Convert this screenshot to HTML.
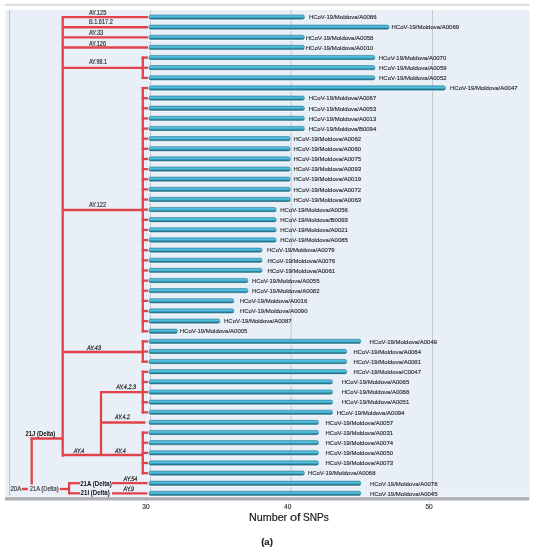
<!DOCTYPE html>
<html><head><meta charset="utf-8"><style>
html,body{margin:0;padding:0;background:#fff;width:534px;height:550px;overflow:hidden;position:relative}
svg text{font-family:"Liberation Sans",sans-serif}
</style></head><body>
<svg width="534" height="550" viewBox="0 0 534 550" style="position:absolute;left:0;top:0;will-change:transform">
<defs><linearGradient id="ax" x1="0" y1="0" x2="0" y2="1"><stop offset="0" stop-color="#b9bcbf"/><stop offset="0.45" stop-color="#a6a9ad"/><stop offset="1" stop-color="#b9bcbf"/></linearGradient><linearGradient id="bar" x1="0" y1="0" x2="0" y2="1"><stop offset="0" stop-color="#3f9ab5"/><stop offset="0.18" stop-color="#4cbcdc"/><stop offset="0.45" stop-color="#50c0e0"/><stop offset="0.62" stop-color="#3c9db8"/><stop offset="0.8" stop-color="#2d7a92"/><stop offset="1" stop-color="#276a7f"/></linearGradient></defs>
<rect x="5" y="3.8" width="524.5" height="2.1" fill="#dcdcdc"/>
<rect x="5.5" y="10" width="524" height="487.5" fill="#e8eff7"/>
<rect x="9" y="10.5" width="1.1" height="487" fill="#bcc2c9"/>
<rect x="150.0" y="10" width="0.8" height="487.5" fill="#b9bdc2"/>
<rect x="290.7" y="10" width="0.8" height="487.5" fill="#b9bdc2"/>
<rect x="432.1" y="10" width="0.8" height="487.5" fill="#b9bdc2"/>
<rect x="5.5" y="495.6" width="524" height="1.5" fill="#f3f6fa" opacity="0.6"/><rect x="5" y="497.1" width="524.3" height="3.5" fill="url(#ax)"/>
<rect x="146.1" y="500" width="0.8" height="3" fill="#cfd2d5"/>
<text x="146.0" y="509" font-size="6.6" text-anchor="middle" fill="#333" stroke="#333" stroke-width="0.15">30</text>
<rect x="287.8" y="500" width="0.8" height="3" fill="#cfd2d5"/>
<text x="287.7" y="509" font-size="6.6" text-anchor="middle" fill="#333" stroke="#333" stroke-width="0.15">40</text>
<rect x="429.20000000000005" y="500" width="0.8" height="3" fill="#cfd2d5"/>
<text x="429.1" y="509" font-size="6.6" text-anchor="middle" fill="#333" stroke="#333" stroke-width="0.15">50</text>
<text x="249.0" y="521.2" font-size="11.3" fill="#222" stroke="#222" stroke-width="0.22" textLength="38.2" lengthAdjust="spacingAndGlyphs">Number</text>
<text x="290.0" y="521.2" font-size="11.3" fill="#222" stroke="#222" stroke-width="0.22" textLength="10.6" lengthAdjust="spacingAndGlyphs">of</text>
<text x="303.0" y="521.2" font-size="11.3" fill="#222" stroke="#222" stroke-width="0.22" textLength="25.8" lengthAdjust="spacingAndGlyphs">SNPs</text>
<text x="267" y="545" font-size="9.6" font-weight="bold" text-anchor="middle" fill="#222" stroke="#222" stroke-width="0.15">(a)</text>
<rect x="148.5" y="19.45" width="156.36" height="1.3" fill="#f6f9fc" opacity="0.8"/>
<rect x="149.0" y="14.90" width="155.36" height="4.3" rx="1.7" fill="url(#bar)" stroke="#2e7a91" stroke-width="0.5"/>
<text x="308.90" y="19.30" font-size="6.1" fill="#333" stroke="#333" stroke-width="0.16" textLength="67.6" lengthAdjust="spacingAndGlyphs">HCoV-19/Moldova/A0086</text>
<rect x="148.5" y="29.59" width="240.99" height="1.3" fill="#f6f9fc" opacity="0.8"/>
<rect x="149.0" y="25.04" width="239.99" height="4.3" rx="1.7" fill="url(#bar)" stroke="#2e7a91" stroke-width="0.5"/>
<text x="391.50" y="29.43" font-size="6.1" fill="#333" stroke="#333" stroke-width="0.16" textLength="67.6" lengthAdjust="spacingAndGlyphs">HCoV-19/Moldova/A0069</text>
<rect x="148.5" y="39.72" width="156.36" height="1.3" fill="#f6f9fc" opacity="0.8"/>
<rect x="149.0" y="35.17" width="155.36" height="4.3" rx="1.7" fill="url(#bar)" stroke="#2e7a91" stroke-width="0.5"/>
<text x="305.80" y="39.57" font-size="6.1" fill="#333" stroke="#333" stroke-width="0.16" textLength="67.6" lengthAdjust="spacingAndGlyphs">HCoV-19/Moldova/A0058</text>
<rect x="148.5" y="49.85" width="156.36" height="1.3" fill="#f6f9fc" opacity="0.8"/>
<rect x="149.0" y="45.30" width="155.36" height="4.3" rx="1.7" fill="url(#bar)" stroke="#2e7a91" stroke-width="0.5"/>
<text x="305.80" y="49.71" font-size="6.1" fill="#333" stroke="#333" stroke-width="0.16" textLength="67.6" lengthAdjust="spacingAndGlyphs">HCoV-19/Moldova/A0010</text>
<rect x="148.5" y="59.99" width="226.88" height="1.3" fill="#f6f9fc" opacity="0.8"/>
<rect x="149.0" y="55.44" width="225.88" height="4.3" rx="1.7" fill="url(#bar)" stroke="#2e7a91" stroke-width="0.5"/>
<text x="378.70" y="59.84" font-size="6.1" fill="#333" stroke="#333" stroke-width="0.16" textLength="67.6" lengthAdjust="spacingAndGlyphs">HCoV-19/Moldova/A0070</text>
<rect x="148.5" y="70.12" width="226.88" height="1.3" fill="#f6f9fc" opacity="0.8"/>
<rect x="149.0" y="65.57" width="225.88" height="4.3" rx="1.7" fill="url(#bar)" stroke="#2e7a91" stroke-width="0.5"/>
<text x="379.00" y="69.98" font-size="6.1" fill="#333" stroke="#333" stroke-width="0.16" textLength="67.6" lengthAdjust="spacingAndGlyphs">HCoV-19/Moldova/A0059</text>
<rect x="148.5" y="80.26" width="226.88" height="1.3" fill="#f6f9fc" opacity="0.8"/>
<rect x="149.0" y="75.71" width="225.88" height="4.3" rx="1.7" fill="url(#bar)" stroke="#2e7a91" stroke-width="0.5"/>
<text x="379.00" y="80.11" font-size="6.1" fill="#333" stroke="#333" stroke-width="0.16" textLength="67.6" lengthAdjust="spacingAndGlyphs">HCoV-19/Moldova/A0052</text>
<rect x="148.5" y="90.39" width="297.41" height="1.3" fill="#f6f9fc" opacity="0.8"/>
<rect x="149.0" y="85.84" width="296.41" height="4.3" rx="1.7" fill="url(#bar)" stroke="#2e7a91" stroke-width="0.5"/>
<text x="450.00" y="90.24" font-size="6.1" fill="#333" stroke="#333" stroke-width="0.16" textLength="67.6" lengthAdjust="spacingAndGlyphs">HCoV-19/Moldova/A0047</text>
<rect x="148.5" y="100.53" width="156.36" height="1.3" fill="#f6f9fc" opacity="0.8"/>
<rect x="149.0" y="95.98" width="155.36" height="4.3" rx="1.7" fill="url(#bar)" stroke="#2e7a91" stroke-width="0.5"/>
<text x="308.70" y="100.38" font-size="6.1" fill="#333" stroke="#333" stroke-width="0.16" textLength="67.6" lengthAdjust="spacingAndGlyphs">HCoV-19/Moldova/A0067</text>
<rect x="148.5" y="110.67" width="156.36" height="1.3" fill="#f6f9fc" opacity="0.8"/>
<rect x="149.0" y="106.11" width="155.36" height="4.3" rx="1.7" fill="url(#bar)" stroke="#2e7a91" stroke-width="0.5"/>
<text x="308.70" y="110.52" font-size="6.1" fill="#333" stroke="#333" stroke-width="0.16" textLength="67.6" lengthAdjust="spacingAndGlyphs">HCoV-19/Moldova/A0053</text>
<rect x="148.5" y="120.80" width="156.36" height="1.3" fill="#f6f9fc" opacity="0.8"/>
<rect x="149.0" y="116.25" width="155.36" height="4.3" rx="1.7" fill="url(#bar)" stroke="#2e7a91" stroke-width="0.5"/>
<text x="308.70" y="120.65" font-size="6.1" fill="#333" stroke="#333" stroke-width="0.16" textLength="67.6" lengthAdjust="spacingAndGlyphs">HCoV-19/Moldova/A0013</text>
<rect x="148.5" y="130.94" width="156.36" height="1.3" fill="#f6f9fc" opacity="0.8"/>
<rect x="149.0" y="126.38" width="155.36" height="4.3" rx="1.7" fill="url(#bar)" stroke="#2e7a91" stroke-width="0.5"/>
<text x="308.70" y="130.78" font-size="6.1" fill="#333" stroke="#333" stroke-width="0.16" textLength="67.6" lengthAdjust="spacingAndGlyphs">HCoV-19/Moldova/B0094</text>
<rect x="148.5" y="141.07" width="142.25" height="1.3" fill="#f6f9fc" opacity="0.8"/>
<rect x="149.0" y="136.52" width="141.25" height="4.3" rx="1.7" fill="url(#bar)" stroke="#2e7a91" stroke-width="0.5"/>
<text x="293.50" y="140.92" font-size="6.1" fill="#333" stroke="#333" stroke-width="0.16" textLength="67.6" lengthAdjust="spacingAndGlyphs">HCoV-19/Moldova/A0062</text>
<rect x="148.5" y="151.21" width="142.25" height="1.3" fill="#f6f9fc" opacity="0.8"/>
<rect x="149.0" y="146.66" width="141.25" height="4.3" rx="1.7" fill="url(#bar)" stroke="#2e7a91" stroke-width="0.5"/>
<text x="293.50" y="151.05" font-size="6.1" fill="#333" stroke="#333" stroke-width="0.16" textLength="67.6" lengthAdjust="spacingAndGlyphs">HCoV-19/Moldova/A0060</text>
<rect x="148.5" y="161.34" width="142.25" height="1.3" fill="#f6f9fc" opacity="0.8"/>
<rect x="149.0" y="156.79" width="141.25" height="4.3" rx="1.7" fill="url(#bar)" stroke="#2e7a91" stroke-width="0.5"/>
<text x="293.50" y="161.19" font-size="6.1" fill="#333" stroke="#333" stroke-width="0.16" textLength="67.6" lengthAdjust="spacingAndGlyphs">HCoV-19/Moldova/A0075</text>
<rect x="148.5" y="171.48" width="142.25" height="1.3" fill="#f6f9fc" opacity="0.8"/>
<rect x="149.0" y="166.93" width="141.25" height="4.3" rx="1.7" fill="url(#bar)" stroke="#2e7a91" stroke-width="0.5"/>
<text x="293.50" y="171.32" font-size="6.1" fill="#333" stroke="#333" stroke-width="0.16" textLength="67.6" lengthAdjust="spacingAndGlyphs">HCoV-19/Moldova/A0093</text>
<rect x="148.5" y="181.61" width="142.25" height="1.3" fill="#f6f9fc" opacity="0.8"/>
<rect x="149.0" y="177.06" width="141.25" height="4.3" rx="1.7" fill="url(#bar)" stroke="#2e7a91" stroke-width="0.5"/>
<text x="293.50" y="181.46" font-size="6.1" fill="#333" stroke="#333" stroke-width="0.16" textLength="67.6" lengthAdjust="spacingAndGlyphs">HCoV-19/Moldova/A0019</text>
<rect x="148.5" y="191.75" width="142.25" height="1.3" fill="#f6f9fc" opacity="0.8"/>
<rect x="149.0" y="187.19" width="141.25" height="4.3" rx="1.7" fill="url(#bar)" stroke="#2e7a91" stroke-width="0.5"/>
<text x="293.50" y="191.59" font-size="6.1" fill="#333" stroke="#333" stroke-width="0.16" textLength="67.6" lengthAdjust="spacingAndGlyphs">HCoV-19/Moldova/A0072</text>
<rect x="148.5" y="201.88" width="142.25" height="1.3" fill="#f6f9fc" opacity="0.8"/>
<rect x="149.0" y="197.33" width="141.25" height="4.3" rx="1.7" fill="url(#bar)" stroke="#2e7a91" stroke-width="0.5"/>
<text x="293.50" y="201.73" font-size="6.1" fill="#333" stroke="#333" stroke-width="0.16" textLength="67.6" lengthAdjust="spacingAndGlyphs">HCoV-19/Moldova/A0063</text>
<rect x="148.5" y="212.02" width="128.15" height="1.3" fill="#f6f9fc" opacity="0.8"/>
<rect x="149.0" y="207.47" width="127.15" height="4.3" rx="1.7" fill="url(#bar)" stroke="#2e7a91" stroke-width="0.5"/>
<text x="280.30" y="211.86" font-size="6.1" fill="#333" stroke="#333" stroke-width="0.16" textLength="67.6" lengthAdjust="spacingAndGlyphs">HCoV-19/Moldova/A0056</text>
<rect x="148.5" y="222.15" width="128.15" height="1.3" fill="#f6f9fc" opacity="0.8"/>
<rect x="149.0" y="217.60" width="127.15" height="4.3" rx="1.7" fill="url(#bar)" stroke="#2e7a91" stroke-width="0.5"/>
<text x="280.30" y="222.00" font-size="6.1" fill="#333" stroke="#333" stroke-width="0.16" textLength="67.6" lengthAdjust="spacingAndGlyphs">HCoV-19/Moldova/B0093</text>
<rect x="148.5" y="232.29" width="128.15" height="1.3" fill="#f6f9fc" opacity="0.8"/>
<rect x="149.0" y="227.74" width="127.15" height="4.3" rx="1.7" fill="url(#bar)" stroke="#2e7a91" stroke-width="0.5"/>
<text x="280.30" y="232.13" font-size="6.1" fill="#333" stroke="#333" stroke-width="0.16" textLength="67.6" lengthAdjust="spacingAndGlyphs">HCoV-19/Moldova/A0021</text>
<rect x="148.5" y="242.42" width="128.15" height="1.3" fill="#f6f9fc" opacity="0.8"/>
<rect x="149.0" y="237.87" width="127.15" height="4.3" rx="1.7" fill="url(#bar)" stroke="#2e7a91" stroke-width="0.5"/>
<text x="280.30" y="242.27" font-size="6.1" fill="#333" stroke="#333" stroke-width="0.16" textLength="67.6" lengthAdjust="spacingAndGlyphs">HCoV-19/Moldova/A0085</text>
<rect x="148.5" y="252.56" width="114.04" height="1.3" fill="#f6f9fc" opacity="0.8"/>
<rect x="149.0" y="248.00" width="113.04" height="4.3" rx="1.7" fill="url(#bar)" stroke="#2e7a91" stroke-width="0.5"/>
<text x="267.00" y="252.40" font-size="6.1" fill="#333" stroke="#333" stroke-width="0.16" textLength="67.6" lengthAdjust="spacingAndGlyphs">HCoV-19/Moldova/A0079</text>
<rect x="148.5" y="262.69" width="114.04" height="1.3" fill="#f6f9fc" opacity="0.8"/>
<rect x="149.0" y="258.14" width="113.04" height="4.3" rx="1.7" fill="url(#bar)" stroke="#2e7a91" stroke-width="0.5"/>
<text x="267.50" y="262.54" font-size="6.1" fill="#333" stroke="#333" stroke-width="0.16" textLength="67.6" lengthAdjust="spacingAndGlyphs">HCoV-19/Moldova/A0076</text>
<rect x="148.5" y="272.82" width="114.04" height="1.3" fill="#f6f9fc" opacity="0.8"/>
<rect x="149.0" y="268.28" width="113.04" height="4.3" rx="1.7" fill="url(#bar)" stroke="#2e7a91" stroke-width="0.5"/>
<text x="267.50" y="272.68" font-size="6.1" fill="#333" stroke="#333" stroke-width="0.16" textLength="67.6" lengthAdjust="spacingAndGlyphs">HCoV-19/Moldova/A0061</text>
<rect x="148.5" y="282.96" width="99.93" height="1.3" fill="#f6f9fc" opacity="0.8"/>
<rect x="149.0" y="278.41" width="98.93" height="4.3" rx="1.7" fill="url(#bar)" stroke="#2e7a91" stroke-width="0.5"/>
<text x="251.90" y="282.81" font-size="6.1" fill="#333" stroke="#333" stroke-width="0.16" textLength="67.6" lengthAdjust="spacingAndGlyphs">HCoV-19/Moldova/A0055</text>
<rect x="148.5" y="293.09" width="99.93" height="1.3" fill="#f6f9fc" opacity="0.8"/>
<rect x="149.0" y="288.55" width="98.93" height="4.3" rx="1.7" fill="url(#bar)" stroke="#2e7a91" stroke-width="0.5"/>
<text x="251.90" y="292.94" font-size="6.1" fill="#333" stroke="#333" stroke-width="0.16" textLength="67.6" lengthAdjust="spacingAndGlyphs">HCoV-19/Moldova/A0082</text>
<rect x="148.5" y="303.23" width="85.83" height="1.3" fill="#f6f9fc" opacity="0.8"/>
<rect x="149.0" y="298.68" width="84.83" height="4.3" rx="1.7" fill="url(#bar)" stroke="#2e7a91" stroke-width="0.5"/>
<text x="239.70" y="303.08" font-size="6.1" fill="#333" stroke="#333" stroke-width="0.16" textLength="67.6" lengthAdjust="spacingAndGlyphs">HCoV-19/Moldova/A0016</text>
<rect x="148.5" y="313.37" width="85.83" height="1.3" fill="#f6f9fc" opacity="0.8"/>
<rect x="149.0" y="308.82" width="84.83" height="4.3" rx="1.7" fill="url(#bar)" stroke="#2e7a91" stroke-width="0.5"/>
<text x="239.90" y="313.22" font-size="6.1" fill="#333" stroke="#333" stroke-width="0.16" textLength="67.6" lengthAdjust="spacingAndGlyphs">HCoV-19/Moldova/A0090</text>
<rect x="148.5" y="323.50" width="71.73" height="1.3" fill="#f6f9fc" opacity="0.8"/>
<rect x="149.0" y="318.95" width="70.73" height="4.3" rx="1.7" fill="url(#bar)" stroke="#2e7a91" stroke-width="0.5"/>
<text x="224.00" y="323.35" font-size="6.1" fill="#333" stroke="#333" stroke-width="0.16" textLength="67.6" lengthAdjust="spacingAndGlyphs">HCoV-19/Moldova/A0087</text>
<rect x="148.5" y="333.63" width="29.41" height="1.3" fill="#f6f9fc" opacity="0.8"/>
<rect x="149.0" y="329.09" width="28.41" height="4.3" rx="1.7" fill="url(#bar)" stroke="#2e7a91" stroke-width="0.5"/>
<text x="179.80" y="333.49" font-size="6.1" fill="#333" stroke="#333" stroke-width="0.16" textLength="67.6" lengthAdjust="spacingAndGlyphs">HCoV-19/Moldova/A0005</text>
<rect x="148.5" y="343.77" width="212.78" height="1.3" fill="#f6f9fc" opacity="0.8"/>
<rect x="149.0" y="339.22" width="211.78" height="4.3" rx="1.7" fill="url(#bar)" stroke="#2e7a91" stroke-width="0.5"/>
<text x="369.50" y="343.62" font-size="6.1" fill="#333" stroke="#333" stroke-width="0.16" textLength="67.6" lengthAdjust="spacingAndGlyphs">HCoV-19/Moldova/A0049</text>
<rect x="148.5" y="353.90" width="198.67" height="1.3" fill="#f6f9fc" opacity="0.8"/>
<rect x="149.0" y="349.36" width="197.67" height="4.3" rx="1.7" fill="url(#bar)" stroke="#2e7a91" stroke-width="0.5"/>
<text x="353.40" y="353.75" font-size="6.1" fill="#333" stroke="#333" stroke-width="0.16" textLength="67.6" lengthAdjust="spacingAndGlyphs">HCoV-19/Moldova/A0064</text>
<rect x="148.5" y="364.04" width="198.67" height="1.3" fill="#f6f9fc" opacity="0.8"/>
<rect x="149.0" y="359.49" width="197.67" height="4.3" rx="1.7" fill="url(#bar)" stroke="#2e7a91" stroke-width="0.5"/>
<text x="353.40" y="363.89" font-size="6.1" fill="#333" stroke="#333" stroke-width="0.16" textLength="67.6" lengthAdjust="spacingAndGlyphs">HCoV-19/Moldova/A0081</text>
<rect x="148.5" y="374.17" width="198.67" height="1.3" fill="#f6f9fc" opacity="0.8"/>
<rect x="149.0" y="369.62" width="197.67" height="4.3" rx="1.7" fill="url(#bar)" stroke="#2e7a91" stroke-width="0.5"/>
<text x="353.40" y="374.02" font-size="6.1" fill="#333" stroke="#333" stroke-width="0.16" textLength="67.6" lengthAdjust="spacingAndGlyphs">HCoV-19/Moldova/C0047</text>
<rect x="148.5" y="384.31" width="184.56" height="1.3" fill="#f6f9fc" opacity="0.8"/>
<rect x="149.0" y="379.76" width="183.56" height="4.3" rx="1.7" fill="url(#bar)" stroke="#2e7a91" stroke-width="0.5"/>
<text x="341.70" y="384.16" font-size="6.1" fill="#333" stroke="#333" stroke-width="0.16" textLength="67.6" lengthAdjust="spacingAndGlyphs">HCoV-19/Moldova/A0065</text>
<rect x="148.5" y="394.44" width="184.56" height="1.3" fill="#f6f9fc" opacity="0.8"/>
<rect x="149.0" y="389.90" width="183.56" height="4.3" rx="1.7" fill="url(#bar)" stroke="#2e7a91" stroke-width="0.5"/>
<text x="341.70" y="394.30" font-size="6.1" fill="#333" stroke="#333" stroke-width="0.16" textLength="67.6" lengthAdjust="spacingAndGlyphs">HCoV-19/Moldova/A0088</text>
<rect x="148.5" y="404.58" width="184.56" height="1.3" fill="#f6f9fc" opacity="0.8"/>
<rect x="149.0" y="400.03" width="183.56" height="4.3" rx="1.7" fill="url(#bar)" stroke="#2e7a91" stroke-width="0.5"/>
<text x="341.70" y="404.43" font-size="6.1" fill="#333" stroke="#333" stroke-width="0.16" textLength="67.6" lengthAdjust="spacingAndGlyphs">HCoV-19/Moldova/A0051</text>
<rect x="148.5" y="414.71" width="184.56" height="1.3" fill="#f6f9fc" opacity="0.8"/>
<rect x="149.0" y="410.17" width="183.56" height="4.3" rx="1.7" fill="url(#bar)" stroke="#2e7a91" stroke-width="0.5"/>
<text x="336.80" y="414.56" font-size="6.1" fill="#333" stroke="#333" stroke-width="0.16" textLength="67.6" lengthAdjust="spacingAndGlyphs">HCoV-19/Moldova/A0094</text>
<rect x="148.5" y="424.85" width="170.46" height="1.3" fill="#f6f9fc" opacity="0.8"/>
<rect x="149.0" y="420.30" width="169.46" height="4.3" rx="1.7" fill="url(#bar)" stroke="#2e7a91" stroke-width="0.5"/>
<text x="325.50" y="424.70" font-size="6.1" fill="#333" stroke="#333" stroke-width="0.16" textLength="67.6" lengthAdjust="spacingAndGlyphs">HCoV-19/Moldova/A0057</text>
<rect x="148.5" y="434.98" width="170.46" height="1.3" fill="#f6f9fc" opacity="0.8"/>
<rect x="149.0" y="430.44" width="169.46" height="4.3" rx="1.7" fill="url(#bar)" stroke="#2e7a91" stroke-width="0.5"/>
<text x="325.50" y="434.83" font-size="6.1" fill="#333" stroke="#333" stroke-width="0.16" textLength="67.6" lengthAdjust="spacingAndGlyphs">HCoV-19/Moldova/A0031</text>
<rect x="148.5" y="445.12" width="170.46" height="1.3" fill="#f6f9fc" opacity="0.8"/>
<rect x="149.0" y="440.57" width="169.46" height="4.3" rx="1.7" fill="url(#bar)" stroke="#2e7a91" stroke-width="0.5"/>
<text x="325.50" y="444.97" font-size="6.1" fill="#333" stroke="#333" stroke-width="0.16" textLength="67.6" lengthAdjust="spacingAndGlyphs">HCoV-19/Moldova/A0074</text>
<rect x="148.5" y="455.25" width="170.46" height="1.3" fill="#f6f9fc" opacity="0.8"/>
<rect x="149.0" y="450.71" width="169.46" height="4.3" rx="1.7" fill="url(#bar)" stroke="#2e7a91" stroke-width="0.5"/>
<text x="325.50" y="455.11" font-size="6.1" fill="#333" stroke="#333" stroke-width="0.16" textLength="67.6" lengthAdjust="spacingAndGlyphs">HCoV-19/Moldova/A0050</text>
<rect x="148.5" y="465.39" width="170.46" height="1.3" fill="#f6f9fc" opacity="0.8"/>
<rect x="149.0" y="460.84" width="169.46" height="4.3" rx="1.7" fill="url(#bar)" stroke="#2e7a91" stroke-width="0.5"/>
<text x="325.50" y="465.24" font-size="6.1" fill="#333" stroke="#333" stroke-width="0.16" textLength="67.6" lengthAdjust="spacingAndGlyphs">HCoV-19/Moldova/A0073</text>
<rect x="148.5" y="475.52" width="156.36" height="1.3" fill="#f6f9fc" opacity="0.8"/>
<rect x="149.0" y="470.98" width="155.36" height="4.3" rx="1.7" fill="url(#bar)" stroke="#2e7a91" stroke-width="0.5"/>
<text x="307.90" y="475.38" font-size="6.1" fill="#333" stroke="#333" stroke-width="0.16" textLength="67.6" lengthAdjust="spacingAndGlyphs">HCoV-19/Moldova/A0068</text>
<rect x="148.5" y="485.66" width="212.78" height="1.3" fill="#f6f9fc" opacity="0.8"/>
<rect x="149.0" y="481.11" width="211.78" height="4.3" rx="1.7" fill="url(#bar)" stroke="#2e7a91" stroke-width="0.5"/>
<text x="369.90" y="485.51" font-size="6.1" fill="#333" stroke="#333" stroke-width="0.16" textLength="67.6" lengthAdjust="spacingAndGlyphs">HCoV-19/Moldova/A0078</text>
<rect x="148.5" y="495.79" width="212.78" height="1.3" fill="#f6f9fc" opacity="0.8"/>
<rect x="149.0" y="491.25" width="211.78" height="4.3" rx="1.7" fill="url(#bar)" stroke="#2e7a91" stroke-width="0.5"/>
<text x="369.90" y="495.64" font-size="6.1" fill="#333" stroke="#333" stroke-width="0.16" textLength="67.6" lengthAdjust="spacingAndGlyphs">HCoV-19/Moldova/A0045</text>
<line x1="62.7" y1="15.95" x2="62.7" y2="456.65" stroke="#e0444a" stroke-width="2.3"/>
<line x1="62.7" y1="17.10" x2="148.0" y2="17.10" stroke="#e0444a" stroke-width="2.3"/>
<line x1="62.7" y1="27.23" x2="148.0" y2="27.23" stroke="#e0444a" stroke-width="2.3"/>
<line x1="62.7" y1="37.37" x2="148.0" y2="37.37" stroke="#e0444a" stroke-width="2.3"/>
<line x1="62.7" y1="47.51" x2="148.0" y2="47.51" stroke="#e0444a" stroke-width="2.3"/>
<line x1="62.7" y1="67.78" x2="142.8" y2="67.78" stroke="#e0444a" stroke-width="2.3"/>
<line x1="142.8" y1="56.49" x2="142.8" y2="79.06" stroke="#e0444a" stroke-width="2.3"/>
<line x1="141.65" y1="57.64" x2="148.0" y2="57.64" stroke="#e0444a" stroke-width="2.3"/>
<line x1="141.65" y1="67.78" x2="148.0" y2="67.78" stroke="#e0444a" stroke-width="2.3"/>
<line x1="141.65" y1="77.91" x2="148.0" y2="77.91" stroke="#e0444a" stroke-width="2.3"/>
<line x1="62.7" y1="210.00" x2="142.8" y2="210.00" stroke="#e0444a" stroke-width="2.3"/>
<line x1="142.8" y1="86.89" x2="142.8" y2="332.44" stroke="#e0444a" stroke-width="2.3"/>
<line x1="141.65" y1="88.04" x2="148.0" y2="88.04" stroke="#e0444a" stroke-width="2.3"/>
<line x1="141.65" y1="98.18" x2="148.0" y2="98.18" stroke="#e0444a" stroke-width="2.3"/>
<line x1="141.65" y1="108.31" x2="148.0" y2="108.31" stroke="#e0444a" stroke-width="2.3"/>
<line x1="141.65" y1="118.45" x2="148.0" y2="118.45" stroke="#e0444a" stroke-width="2.3"/>
<line x1="141.65" y1="128.59" x2="148.0" y2="128.59" stroke="#e0444a" stroke-width="2.3"/>
<line x1="141.65" y1="138.72" x2="148.0" y2="138.72" stroke="#e0444a" stroke-width="2.3"/>
<line x1="141.65" y1="148.85" x2="148.0" y2="148.85" stroke="#e0444a" stroke-width="2.3"/>
<line x1="141.65" y1="158.99" x2="148.0" y2="158.99" stroke="#e0444a" stroke-width="2.3"/>
<line x1="141.65" y1="169.12" x2="148.0" y2="169.12" stroke="#e0444a" stroke-width="2.3"/>
<line x1="141.65" y1="179.26" x2="148.0" y2="179.26" stroke="#e0444a" stroke-width="2.3"/>
<line x1="141.65" y1="189.39" x2="148.0" y2="189.39" stroke="#e0444a" stroke-width="2.3"/>
<line x1="141.65" y1="199.53" x2="148.0" y2="199.53" stroke="#e0444a" stroke-width="2.3"/>
<line x1="141.65" y1="209.66" x2="148.0" y2="209.66" stroke="#e0444a" stroke-width="2.3"/>
<line x1="141.65" y1="219.80" x2="148.0" y2="219.80" stroke="#e0444a" stroke-width="2.3"/>
<line x1="141.65" y1="229.94" x2="148.0" y2="229.94" stroke="#e0444a" stroke-width="2.3"/>
<line x1="141.65" y1="240.07" x2="148.0" y2="240.07" stroke="#e0444a" stroke-width="2.3"/>
<line x1="141.65" y1="250.20" x2="148.0" y2="250.20" stroke="#e0444a" stroke-width="2.3"/>
<line x1="141.65" y1="260.34" x2="148.0" y2="260.34" stroke="#e0444a" stroke-width="2.3"/>
<line x1="141.65" y1="270.48" x2="148.0" y2="270.48" stroke="#e0444a" stroke-width="2.3"/>
<line x1="141.65" y1="280.61" x2="148.0" y2="280.61" stroke="#e0444a" stroke-width="2.3"/>
<line x1="141.65" y1="290.75" x2="148.0" y2="290.75" stroke="#e0444a" stroke-width="2.3"/>
<line x1="141.65" y1="300.88" x2="148.0" y2="300.88" stroke="#e0444a" stroke-width="2.3"/>
<line x1="141.65" y1="311.02" x2="148.0" y2="311.02" stroke="#e0444a" stroke-width="2.3"/>
<line x1="141.65" y1="321.15" x2="148.0" y2="321.15" stroke="#e0444a" stroke-width="2.3"/>
<line x1="141.65" y1="331.29" x2="148.0" y2="331.29" stroke="#e0444a" stroke-width="2.3"/>
<line x1="62.7" y1="352.00" x2="142.8" y2="352.00" stroke="#e0444a" stroke-width="2.3"/>
<line x1="142.8" y1="340.27" x2="142.8" y2="362.84" stroke="#e0444a" stroke-width="2.3"/>
<line x1="141.65" y1="341.42" x2="148.0" y2="341.42" stroke="#e0444a" stroke-width="2.3"/>
<line x1="141.65" y1="351.56" x2="148.0" y2="351.56" stroke="#e0444a" stroke-width="2.3"/>
<line x1="141.65" y1="361.69" x2="148.0" y2="361.69" stroke="#e0444a" stroke-width="2.3"/>
<line x1="101.0" y1="392.10" x2="142.8" y2="392.10" stroke="#e0444a" stroke-width="2.3"/>
<line x1="142.8" y1="370.68" x2="142.8" y2="413.51" stroke="#e0444a" stroke-width="2.3"/>
<line x1="141.65" y1="371.82" x2="148.0" y2="371.82" stroke="#e0444a" stroke-width="2.3"/>
<line x1="141.65" y1="381.96" x2="148.0" y2="381.96" stroke="#e0444a" stroke-width="2.3"/>
<line x1="141.65" y1="392.10" x2="148.0" y2="392.10" stroke="#e0444a" stroke-width="2.3"/>
<line x1="141.65" y1="402.23" x2="148.0" y2="402.23" stroke="#e0444a" stroke-width="2.3"/>
<line x1="141.65" y1="412.37" x2="148.0" y2="412.37" stroke="#e0444a" stroke-width="2.3"/>
<line x1="101.0" y1="422.50" x2="145.5" y2="422.50" stroke="#e0444a" stroke-width="2.3"/>
<line x1="62.7" y1="455.00" x2="142.8" y2="455.00" stroke="#e0444a" stroke-width="2.3"/>
<line x1="142.8" y1="431.49" x2="142.8" y2="474.32" stroke="#e0444a" stroke-width="2.3"/>
<line x1="141.65" y1="432.63" x2="148.0" y2="432.63" stroke="#e0444a" stroke-width="2.3"/>
<line x1="141.65" y1="442.77" x2="148.0" y2="442.77" stroke="#e0444a" stroke-width="2.3"/>
<line x1="141.65" y1="452.91" x2="148.0" y2="452.91" stroke="#e0444a" stroke-width="2.3"/>
<line x1="141.65" y1="463.04" x2="148.0" y2="463.04" stroke="#e0444a" stroke-width="2.3"/>
<line x1="141.65" y1="473.18" x2="148.0" y2="473.18" stroke="#e0444a" stroke-width="2.3"/>
<line x1="101.0" y1="390.95" x2="101.0" y2="455.00" stroke="#e0444a" stroke-width="2.3"/>
<line x1="30.450000000000003" y1="438.50" x2="62.7" y2="438.50" stroke="#e0444a" stroke-width="2.3"/>
<line x1="31.7" y1="437.35" x2="31.7" y2="484.50" stroke="#e0444a" stroke-width="2.3"/>
<line x1="22.8" y1="489.0" x2="26.9" y2="489.0" stroke="#e0444a" stroke-width="2.3" stroke-linecap="round"/>
<line x1="59.8" y1="489.00" x2="69.1" y2="489.00" stroke="#e0444a" stroke-width="2.3"/>
<line x1="69.1" y1="482.05" x2="69.1" y2="494.45" stroke="#e0444a" stroke-width="2.3"/>
<line x1="69.1" y1="483.20" x2="79.9" y2="483.20" stroke="#e0444a" stroke-width="2.3"/>
<line x1="112.1" y1="483.20" x2="147.5" y2="483.20" stroke="#e0444a" stroke-width="2.3"/>
<line x1="69.0" y1="493.30" x2="79.9" y2="493.30" stroke="#e0444a" stroke-width="2.3"/>
<line x1="112.1" y1="493.30" x2="147.3" y2="493.30" stroke="#e0444a" stroke-width="2.3"/>
<text x="88.9" y="14.57" font-size="6.5" fill="#2a2a2a" stroke="#2a2a2a" stroke-width="0.15" textLength="17.4" lengthAdjust="spacingAndGlyphs">AY.125</text>
<text x="88.9" y="24.22" font-size="6.5" fill="#2a2a2a" stroke="#2a2a2a" stroke-width="0.15" textLength="23.9" lengthAdjust="spacingAndGlyphs">B.1.617.2</text>
<text x="88.9" y="34.92" font-size="6.5" fill="#2a2a2a" stroke="#2a2a2a" stroke-width="0.15" textLength="14.4" lengthAdjust="spacingAndGlyphs">AY.33</text>
<text x="88.9" y="45.92" font-size="6.5" fill="#2a2a2a" stroke="#2a2a2a" stroke-width="0.15" textLength="17.2" lengthAdjust="spacingAndGlyphs">AY.126</text>
<text x="88.9" y="64.42" font-size="6.5" fill="#2a2a2a" stroke="#2a2a2a" stroke-width="0.15" textLength="18.0" lengthAdjust="spacingAndGlyphs">AY.98.1</text>
<text x="88.9" y="207.12" font-size="6.5" fill="#2a2a2a" stroke="#2a2a2a" stroke-width="0.15" textLength="17.2" lengthAdjust="spacingAndGlyphs">AY.122</text>
<text transform="translate(86.8,349.67) skewX(-8)" x="0" y="0" font-size="6.5" fill="#2a2a2a" stroke="#2a2a2a" stroke-width="0.25" textLength="14.0" lengthAdjust="spacingAndGlyphs">AY.43</text>
<text transform="translate(115.9,388.82) skewX(-8)" x="0" y="0" font-size="6.5" fill="#2a2a2a" stroke="#2a2a2a" stroke-width="0.25" textLength="19.9" lengthAdjust="spacingAndGlyphs">AY.4.2.3</text>
<text transform="translate(114.8,419.27) skewX(-8)" x="0" y="0" font-size="6.5" fill="#2a2a2a" stroke="#2a2a2a" stroke-width="0.25" textLength="14.8" lengthAdjust="spacingAndGlyphs">AY.4.2</text>
<text transform="translate(73.60000000000001,453.37) skewX(-8)" x="0" y="0" font-size="6.5" fill="#2a2a2a" stroke="#2a2a2a" stroke-width="0.25" textLength="10.4" lengthAdjust="spacingAndGlyphs">AY.4</text>
<text transform="translate(114.8,453.37) skewX(-8)" x="0" y="0" font-size="6.5" fill="#2a2a2a" stroke="#2a2a2a" stroke-width="0.25" textLength="10.6" lengthAdjust="spacingAndGlyphs">AY.4</text>
<text transform="translate(123.3,481.27) skewX(-8)" x="0" y="0" font-size="6.5" fill="#2a2a2a" stroke="#2a2a2a" stroke-width="0.25" textLength="13.8" lengthAdjust="spacingAndGlyphs">AY.54</text>
<text transform="translate(123.3,491.27) skewX(-8)" x="0" y="0" font-size="6.5" fill="#2a2a2a" stroke="#2a2a2a" stroke-width="0.25" textLength="10.4" lengthAdjust="spacingAndGlyphs">AY.9</text>
<text x="25.6" y="435.87" font-size="6.5" fill="#111" textLength="29.6" lengthAdjust="spacingAndGlyphs" font-weight="bold">21J (Delta)</text>
<text x="10.5" y="490.97" font-size="6.5" fill="#383838" stroke="#383838" stroke-width="0.15" textLength="10.8" lengthAdjust="spacingAndGlyphs">20A</text>
<text x="29.8" y="490.97" font-size="6.5" fill="#383838" stroke="#383838" stroke-width="0.15" textLength="28.8" lengthAdjust="spacingAndGlyphs">21A (Delta)</text>
<text x="80.2" y="485.67" font-size="6.5" fill="#111" textLength="31.5" lengthAdjust="spacingAndGlyphs" font-weight="bold">21A (Delta)</text>
<text x="80.6" y="495.27" font-size="6.5" fill="#111" textLength="29.2" lengthAdjust="spacingAndGlyphs" font-weight="bold">21I (Delta)</text>
</svg>
</body></html>
